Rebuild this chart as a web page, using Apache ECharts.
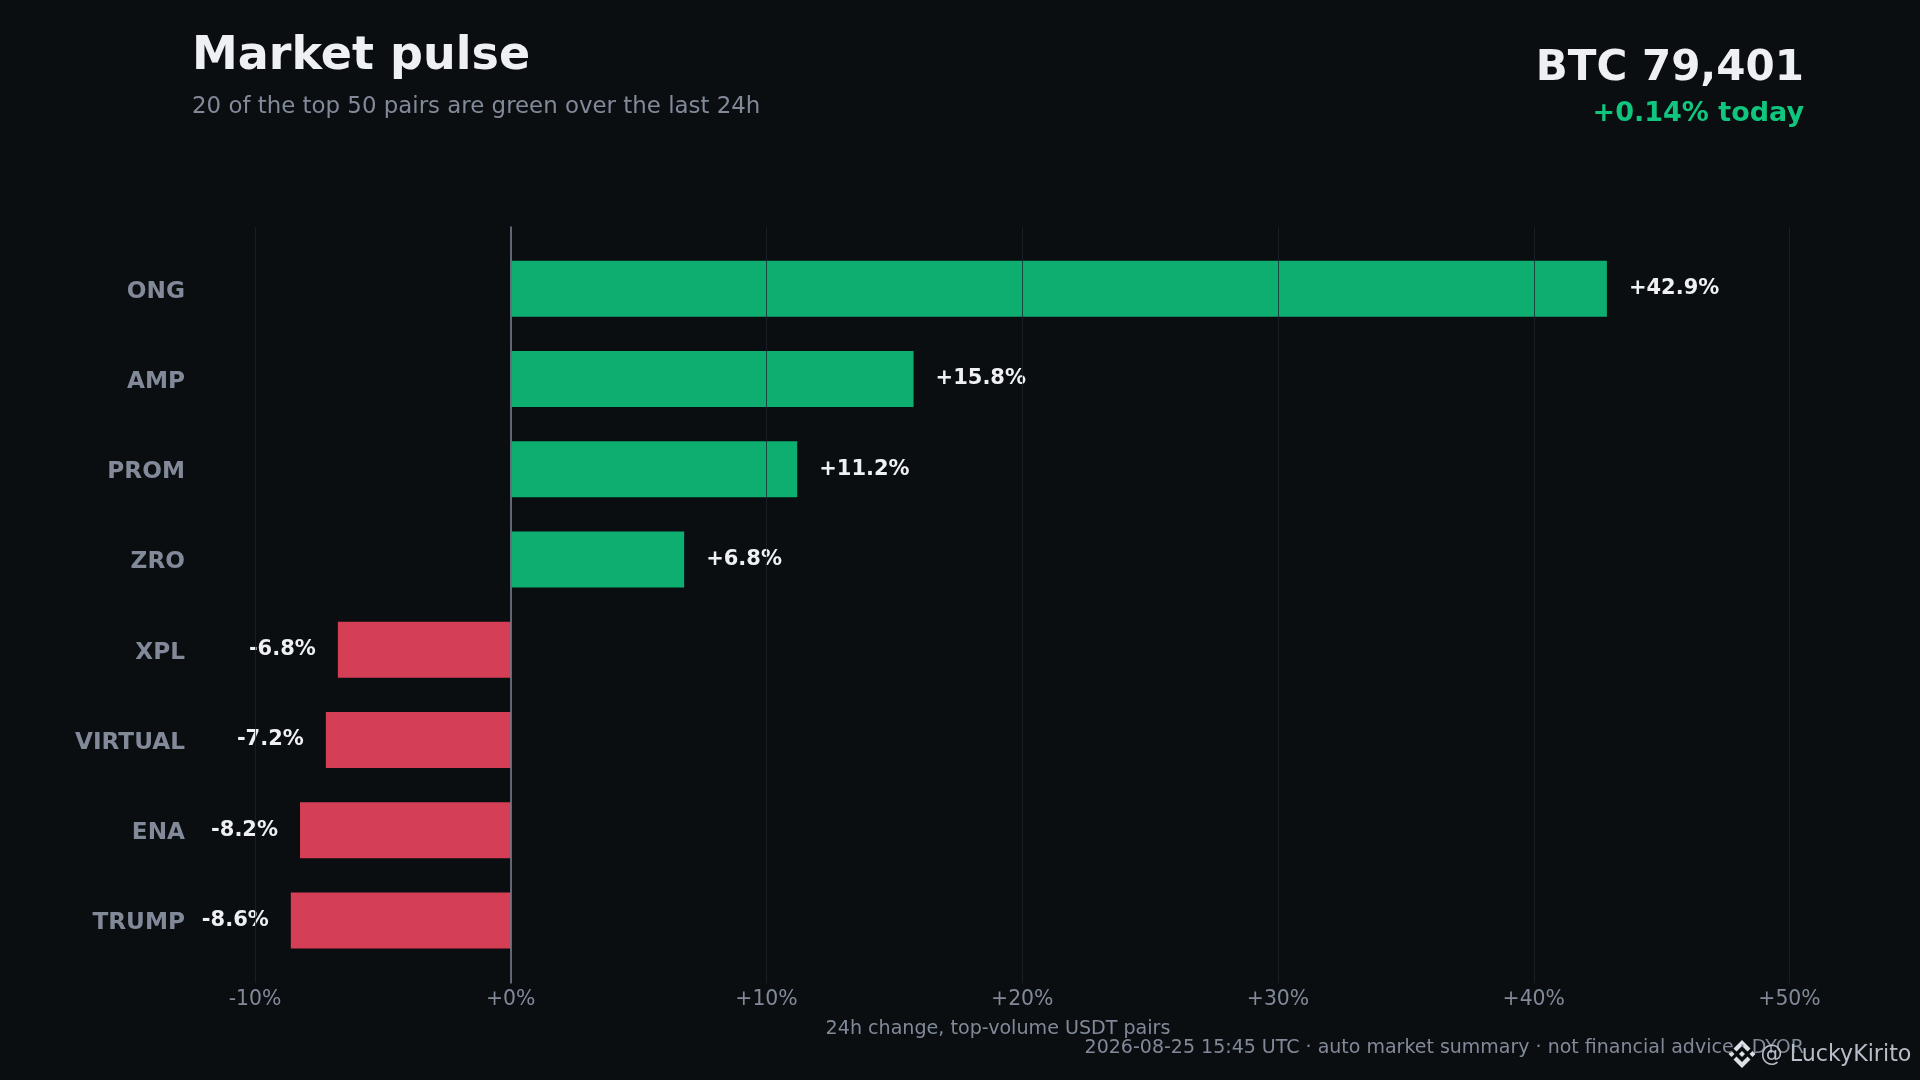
<!DOCTYPE html>
<html><head><meta charset="utf-8">
<style>html,body{margin:0;padding:0;background:#0a0e11;overflow:hidden}#c{width:1920px;height:1080px}</style>
<script src="https://cdn.jsdelivr.net/npm/echarts@6/dist/echarts.min.js"></script>
</head><body><div id="c"></div>
<script>
const categories = ['ONG','AMP','PROM','ZRO','XPL','VIRTUAL','ENA','TRUMP'];
const changes = [42.86,15.75,11.2,6.78,-6.76,-7.23,-8.24,-8.6];
const xTicksMin = -10, xTicksMax = 50, xTickStep = 10;
const titleText = 'Market pulse';
const subtitleText = '20 of the top 50 pairs are green over the last 24h';
const btcText = 'BTC 79,401';
const btcChangeText = '+0.14% today';
const xAxisTitle = '24h change, top-volume USDT pairs';
const footerText = '2026-08-25 15:45 UTC · auto market summary · not financial advice · DYOR';
const watermarkText = '@ LuckyKirito';

const FONT = '"DejaVu Sans"';
const GREEN='#0eae71', RED='#d43f56', TEXT='#eef0f4', MUTED='#828a99';
const MARK='#dde0e5', MARKTEXT='#b7bec8';
const signed = v => (v>=0?'+':'')+v+'%';
const chart = echarts.init(document.getElementById('c'),null,{renderer:'canvas'});
const txt=(text,x,y,size,color,weight,align)=>({type:'text',x,y,z:20,silent:true,style:{text,fontFamily:FONT,fontSize:size,fill:color,fontWeight:weight||'normal',align:align||'left',verticalAlign:'middle'}});
chart.setOption({
  backgroundColor:'#0a0e11',
  animation:false,
  grid:[
    {left:255,width:1534.5,top:227,height:756},
    {left:255,width:1534.5,top:243.6,height:722}
  ],
  xAxis:[
    {gridIndex:0,type:'value',min:xTicksMin,max:xTicksMax,interval:xTickStep,z:5,
     axisLine:{show:false},axisTick:{show:false},
     splitLine:{show:true,lineStyle:{color:'rgba(30,36,44,0.75)',width:1}},
     axisLabel:{formatter:signed,color:MUTED,fontFamily:FONT,fontSize:20.4,margin:6.5}},
    {gridIndex:1,type:'value',min:xTicksMin,max:xTicksMax,interval:xTickStep,show:false,splitLine:{show:false}}
  ],
  yAxis:[
    {gridIndex:0,type:'value',min:0,max:1,z:6,splitLine:{show:false},axisLabel:{show:false},axisTick:{show:false},
     axisLine:{show:true,onZero:true,lineStyle:{color:'#7b8290',width:1.5}}},
    {gridIndex:1,type:'category',data:categories,inverse:true,
     axisLine:{show:false},axisTick:{show:false},splitLine:{show:false},
     axisLabel:{margin:70,formatter:v=>`{n|${v}}`,
       rich:{n:{color:MUTED,fontFamily:FONT,fontSize:23.2,fontWeight:'bold',padding:[6,0,0,0]}}}}
  ],
  series:[{
    type:'bar',xAxisIndex:1,yAxisIndex:1,barWidth:56,z:1,
    data:changes.map(v=>({value:v,
      itemStyle:{color:v>=0?GREEN:RED},
      label:{position:v>=0?'right':'left',distance:22}})),
    label:{show:true,formatter:p=>signed(p.value.toFixed(1)),color:TEXT,fontFamily:FONT,fontSize:21,fontWeight:'bold'}
  }],
  graphic:[
    txt(titleText,192,57.5,46,TEXT,'bold'),
    txt(subtitleText,192,107,22.9,MUTED),
    txt(btcText,1804,69.5,42,TEXT,'bold','right'),
    txt(btcChangeText,1804,114,27,'#10c67f','bold','right'),
    txt(xAxisTitle,998,1029,19.1,MUTED,'normal','center'),
    txt(footerText,1804,1048,19,MUTED,'normal','right'),
    txt(watermarkText,1760.5,1055,22.2,MARKTEXT,'normal','left'),
    {type:'group',x:1742,y:1054,z:20,silent:true,children:[
      {type:'polygon',shape:{points:[[0,-14],[8.5,-5.5],[5.5,-2.5],[0,-8],[-5.5,-2.5],[-8.5,-5.5]]},style:{fill:MARK}},
      {type:'polygon',shape:{points:[[0,14],[8.5,5.5],[5.5,2.5],[0,8],[-5.5,2.5],[-8.5,5.5]]},style:{fill:MARK}},
      {type:'polygon',shape:{points:[[-13.5,0],[-10.5,-3],[-7.5,0],[-10.5,3]]},style:{fill:MARK}},
      {type:'polygon',shape:{points:[[13.5,0],[10.5,-3],[7.5,0],[10.5,3]]},style:{fill:MARK}},
      {type:'polygon',shape:{points:[[0,-3],[3,0],[0,3],[-3,0]]},style:{fill:MARK}}
    ]}
  ]
});
</script></body></html>
